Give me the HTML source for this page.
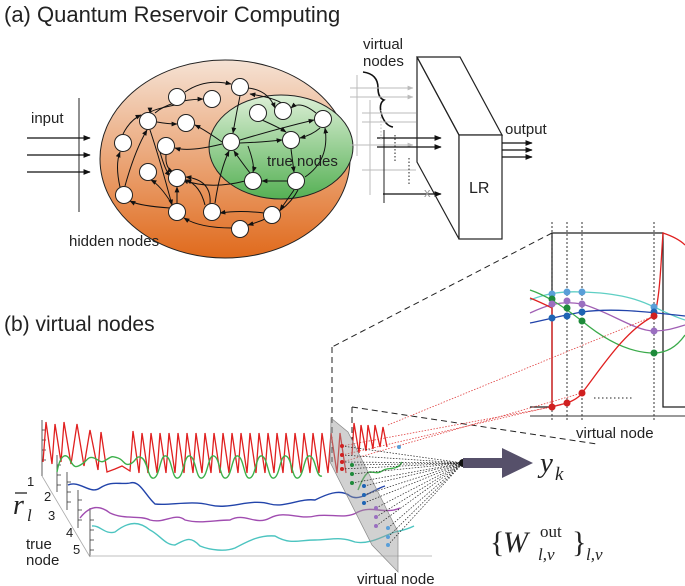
<!DOCTYPE html>
<html><head><meta charset="utf-8"><style>
html,body{margin:0;padding:0;background:#fff}
svg{display:block}
text{font-family:"Liberation Sans",sans-serif;fill:#222}
.s{font-family:"Liberation Serif",serif;font-style:italic}
.r{font-family:"Liberation Serif",serif}
</style></head><body>
<svg width="685" height="586" viewBox="0 0 685 586" xmlns="http://www.w3.org/2000/svg">
<defs>
<linearGradient id="og" x1="0" y1="0" x2="0" y2="1"><stop offset="0" stop-color="#f5e2d4"/><stop offset="1" stop-color="#e06a1c"/></linearGradient>
<linearGradient id="gg" x1="0" y1="0" x2="0" y2="1"><stop offset="0" stop-color="#dcefd6"/><stop offset="1" stop-color="#55b054"/></linearGradient>
<marker id="a" viewBox="0 0 10 10" refX="9" refY="5" markerWidth="6" markerHeight="6" orient="auto"><path d="M0,1L10,5L0,9z" fill="#111"/></marker>
<marker id="ag" viewBox="0 0 10 10" refX="9" refY="5" markerWidth="6" markerHeight="6" orient="auto"><path d="M0,1L10,5L0,9z" fill="#bbb"/></marker>
</defs>
<text x="4" y="22" font-size="22">(a) Quantum Reservoir Computing</text>
<text x="4" y="331" font-size="21">(b) virtual nodes</text>

<text x="31" y="123" font-size="15">input</text>
<line x1="79" y1="98" x2="79" y2="212" stroke="#222"/>
<g stroke="#111" stroke-width="1.2" marker-end="url(#a)">
<line x1="27" y1="138" x2="90" y2="138"/><line x1="27" y1="155" x2="90" y2="155"/><line x1="27" y1="172" x2="90" y2="172"/>
</g>

<ellipse cx="225" cy="159" rx="125" ry="99" fill="url(#og)" stroke="#222"/>
<ellipse cx="281" cy="147" rx="72" ry="52" fill="url(#gg)" stroke="#222"/>
<text x="267" y="166" font-size="15">true nodes</text>
<text x="69" y="246" font-size="15">hidden nodes</text>

<g fill="none" stroke="#111" stroke-width="1" marker-end="url(#a)">
<path d="M185,92 Q205,78 231,84"/>
<path d="M248,88 Q268,90 275,108"/>
<path d="M240,96 Q236,115 233,133"/>
<path d="M155,113 Q170,100 203,99"/>
<path d="M157,122 Q168,124 177,124"/>
<path d="M222,142 Q205,130 195,125"/>
<path d="M240,140 Q280,128 314,120"/>
<path d="M240,143 Q265,142 282,140"/>
<path d="M320,128 Q312,135 300,138"/>
<path d="M262,120 Q280,128 286,132"/>
<path d="M291,149 L294,172"/>
<path d="M287,181 L262,181"/>
<path d="M250,173 Q240,160 234,151"/>
<path d="M305,177 Q330,160 325,128"/>
<path d="M222,144 Q190,152 175,148"/>
<path d="M123,134 Q130,120 141,115"/>
<path d="M120,187 Q115,165 120,152"/>
<path d="M166,155 Q165,168 173,172"/>
<path d="M177,203 L177,187"/>
<path d="M205,205 Q200,185 186,180"/>
<path d="M170,208 Q140,206 130,201"/>
<path d="M172,204 Q160,185 151,180"/>
<path d="M232,228 Q200,228 184,218"/>
<path d="M264,213 Q240,210 220,213"/>
<path d="M298,190 Q285,215 248,225"/>
<path d="M294,190 L280,210"/>
<path d="M215,203 Q220,170 229,151"/>
<path d="M150,130 Q160,160 172,205"/>
<path d="M125,186 Q135,150 147,130"/>
<path d="M245,181 Q210,190 183,180"/>
<path d="M210,204 Q212,180 186,177"/>
<path d="M283,104 Q275,98 250,94"/>
<path d="M316,113 Q300,100 291,108"/>
<path d="M248,146 Q255,165 253,172"/>
<path d="M160,152 Q165,170 170,176"/>
<path d="M175,105 Q150,110 150,113"/>
</g>
<g fill="#fff" stroke="#222" stroke-width="1">
<circle cx="240" cy="87" r="8.5"/><circle cx="177" cy="97" r="8.5"/><circle cx="212" cy="99" r="8.5"/><circle cx="258" cy="113" r="8.5"/><circle cx="283" cy="111" r="8.5"/><circle cx="323" cy="119" r="8.5"/><circle cx="148" cy="121" r="8.5"/><circle cx="186" cy="123" r="8.5"/><circle cx="231" cy="142" r="8.5"/><circle cx="291" cy="140" r="8.5"/><circle cx="123" cy="143" r="8.5"/><circle cx="166" cy="146" r="8.5"/><circle cx="148" cy="172" r="8.5"/><circle cx="177" cy="178" r="8.5"/><circle cx="253" cy="181" r="8.5"/><circle cx="296" cy="181" r="8.5"/><circle cx="124" cy="195" r="8.5"/><circle cx="177" cy="212" r="8.5"/><circle cx="212" cy="212" r="8.5"/><circle cx="272" cy="215" r="8.5"/><circle cx="240" cy="229" r="8.5"/>
</g>

<text x="363" y="49" font-size="15">virtual</text>
<text x="363" y="66" font-size="15">nodes</text>
<path d="M363,72 Q378,74 378,88 Q378,98 384,100 Q378,104 382,116 Q386,126 393,127" fill="none" stroke="#111" stroke-width="1.6"/>
<g stroke="#bbb" stroke-width="1">
<line x1="357" y1="75" x2="357" y2="156"/><line x1="370" y1="100" x2="370" y2="195"/>
<line x1="362" y1="113" x2="416" y2="113"/><line x1="362" y1="122" x2="416" y2="122"/><line x1="362" y1="170" x2="416" y2="170"/>
<line x1="350" y1="88" x2="413" y2="88" marker-end="url(#ag)"/><line x1="350" y1="97" x2="413" y2="97" marker-end="url(#ag)"/><line x1="350" y1="145" x2="413" y2="145" marker-end="url(#ag)"/>
</g>
<line x1="384" y1="130" x2="384" y2="203" stroke="#222"/>
<g stroke="#111" stroke-width="1.2" marker-end="url(#a)">
<line x1="377" y1="138" x2="441" y2="138"/><line x1="377" y1="147" x2="441" y2="147"/><line x1="383" y1="194" x2="441" y2="194"/>
</g>
<g stroke="#222" stroke-dasharray="1.5,2"><line x1="381" y1="110" x2="381" y2="140" stroke="#bbb"/><line x1="395" y1="135" x2="395" y2="163"/><line x1="409" y1="158" x2="409" y2="186"/></g>
<text x="424" y="197" font-size="13" style="fill:#999">x</text>
<g fill="#fff" stroke="#222" stroke-width="1.2">
<path d="M417,57 L460,57 L502,135 L459,135 Z"/>
<path d="M417,57 L417,162 L459,239 L459,135 Z" fill="none"/>
<rect x="459" y="135" width="43" height="104"/>
</g>
<text x="469" y="193" font-size="16">LR</text>
<text x="505" y="134" font-size="15">output</text>
<g stroke="#111" stroke-width="1.2" marker-end="url(#a)">
<line x1="502" y1="143" x2="532" y2="143"/><line x1="502" y1="150" x2="532" y2="150"/><line x1="502" y1="157" x2="532" y2="157"/>
</g>

<g stroke="#222" stroke-dasharray="6,4" fill="none">
<line x1="552" y1="233" x2="332" y2="347"/>
<line x1="332" y1="347" x2="332" y2="462"/>
<line x1="352" y1="407" x2="597" y2="444"/>
<line x1="352" y1="407" x2="352" y2="440"/>
</g>

<line x1="530" y1="416" x2="685" y2="416" stroke="#333"/>
<path d="M530,407 L552,407 L552,233 L663,233 L663,407 L685,407" fill="none" stroke="#222" stroke-width="1.3"/>
<g stroke="#333" stroke-dasharray="2,2"><line x1="552" y1="222" x2="552" y2="420"/><line x1="567" y1="222" x2="567" y2="420"/><line x1="582" y1="222" x2="582" y2="420"/><line x1="654" y1="222" x2="654" y2="420"/></g>
<g fill="none" stroke-width="1.3">
<path d="M530,300 C545,294 560,291 582,292 C620,293 640,300 654,307 C665,312 675,317 685,320" stroke="#5fcfc4"/>
<path d="M530,313 C545,306 560,300 582,304 C610,312 635,331 654,331 C668,331 678,327 685,325" stroke="#a05fb4"/>
<path d="M530,323 C545,320 560,316 582,312 C610,308 640,311 685,316" stroke="#2244aa"/>
<path d="M530,290 C545,295 560,304 582,321 C605,340 630,353 654,353 C668,353 678,345 685,335" stroke="#3aaa4a"/>
<path d="M530,298 C540,302 548,306 552,308 L552,407 C558,405 564,404 567,403 C575,400 580,396 582,393 C600,370 625,330 654,316 C660,300 661,260 663,233 C672,236 680,240 685,245" stroke="#e02020"/>
</g>
<g stroke="#e04040" stroke-width="0.8" stroke-dasharray="1.5,1.5" fill="none">
<line x1="342" y1="446" x2="552" y2="407"/><line x1="342" y1="455" x2="567" y2="403"/><line x1="342" y1="462" x2="582" y2="393"/><line x1="388" y1="425" x2="654" y2="316"/>
</g>
<g>
<circle cx="552" cy="294" r="3.5" fill="#5a9fd8"/><circle cx="567" cy="292" r="3.5" fill="#5a9fd8"/><circle cx="582" cy="292" r="3.5" fill="#5a9fd8"/><circle cx="654" cy="307" r="3.5" fill="#5a9fd8"/>
<circle cx="552" cy="299" r="3.5" fill="#1e8a3a"/><circle cx="567" cy="308" r="3.5" fill="#1e8a3a"/><circle cx="582" cy="321" r="3.5" fill="#1e8a3a"/><circle cx="654" cy="353" r="3.5" fill="#1e8a3a"/>
<circle cx="552" cy="304" r="3.5" fill="#9a6fc0"/><circle cx="567" cy="301" r="3.5" fill="#9a6fc0"/><circle cx="582" cy="304" r="3.5" fill="#9a6fc0"/><circle cx="654" cy="331" r="3.5" fill="#9a6fc0"/>
<circle cx="552" cy="318" r="3.5" fill="#1e64b4"/><circle cx="567" cy="316" r="3.5" fill="#1e64b4"/><circle cx="582" cy="312" r="3.5" fill="#1e64b4"/><circle cx="654" cy="312" r="3.5" fill="#1e64b4"/>
<circle cx="552" cy="407" r="3.5" fill="#d02020"/><circle cx="567" cy="403" r="3.5" fill="#d02020"/><circle cx="582" cy="393" r="3.5" fill="#d02020"/><circle cx="654" cy="316" r="3.5" fill="#d02020"/>
</g>
<line x1="594" y1="398" x2="632" y2="398" stroke="#222" stroke-dasharray="1.5,2.5"/>
<text x="576" y="438" font-size="15">virtual node</text>

<g fill="none" stroke="#333" stroke-width="0.8">
<line x1="42" y1="420" x2="42" y2="476"/><line x1="57" y1="455" x2="57" y2="492"/><line x1="67" y1="472" x2="67" y2="510"/><line x1="78" y1="490" x2="78" y2="528"/><line x1="90" y1="508" x2="90" y2="557"/>
<line x1="42" y1="476" x2="90" y2="557" stroke="#aaa"/>
<line x1="90" y1="556" x2="432" y2="556" stroke="#ccc" stroke-width="1.2"/>
<path d="M42,430h4M42,440h4M42,450h4M42,460h4M57,465h4M57,475h4M57,485h4M67,482h4M67,492h4M67,502h4M78,500h4M78,510h4M78,520h4M90,520h4M90,530h4M90,540h4M90,550h4"/>
</g>
<path d="M43,462 l3,-40 l6,42 l3,-40 l6,38 l3,-40 l7,42 l6,-40 l7,42 l6,-36 l8,40 l3,-38 l6,40 l8,-3 l7,-3 l8,5 l3,-40 l6,42 l3,-40 l6,40 l3,-40 l6,40 l3,-40 l6,40 l3,-40 l6,40 l3,-40 l6,40 l3,-40 l6,40 l3,-40 l6,40 l3,-40 l6,40 l3,-40 l6,40 l3,-40 l6,40 l3,-40 l6,40 l3,-40 l6,40 l3,-40 l6,40 l3,-40 l6,40 l3,-40 l6,40 l3,-40 l6,40 l3,-40 l6,40 l3,-40 l6,40 l3,-40 l6,40 l3,-40 l6,40 l3,-40 l6,40 l3,-40 l6,40 l3,-40 l6,40" fill="none" stroke="#e02020" stroke-width="1.3"/>
<path d="M352,455 l2,-32 l5,30 l2,-28 l5,26 l2,-26 l5,24 l2,-24 l5,22 l3,-20 l4,20" fill="none" stroke="#e02020" stroke-width="1.3"/>
<path d="M57,472 C60,455 66,452 70,460 s6,8 12,4 s6,-8 12,-6 s6,6 12,2 s6,-4 12,-2 s6,8 12,6 s6,-10 12,-6 s6,22 12,20 s6,-24 12,-22 s6,24 12,22 s6,-24 12,-22 s6,24 12,22 s6,-24 12,-22 s6,24 12,22 s6,-24 12,-22 s6,24 12,22 s6,-24 12,-22 s6,24 12,22 s6,-24 12,-22 s6,24 12,22 s6,-24 12,-22 s6,22 12,20" fill="none" stroke="#3cb04a" stroke-width="1.4"/>
<path d="M358,490 C362,480 366,472 370,472 s8,2 12,-1 s8,-2 12,-3 s6,-2 8,-6" fill="none" stroke="#3cb04a" stroke-width="1.4"/>
<path d="M68,485 C80,480 90,495 100,488 C112,480 120,485 130,483 C140,480 145,495 155,504 C170,506 190,500 210,505 C230,510 250,498 270,504 C285,508 300,498 315,500 C325,495 340,488 350,496 C360,502 372,490 385,486" fill="none" stroke="#2244aa" stroke-width="1.4"/>
<path d="M80,518 C90,505 100,505 110,513 C125,520 140,515 150,520 C165,524 175,512 185,520 C200,524 215,520 230,520 C245,512 255,526 270,518 C285,510 300,520 315,516 C330,513 345,520 358,512 C372,505 385,515 400,508" fill="none" stroke="#a04cb0" stroke-width="1.4"/>
<path d="M92,526 C100,525 105,535 115,532 C130,520 140,522 150,530 C160,535 165,545 175,545 C185,540 190,535 200,546 C210,550 225,552 235,548 C250,540 260,535 275,536 C290,545 300,540 315,540 C330,540 340,536 355,542 C370,545 385,535 395,532 C405,530 410,528 414,526" fill="none" stroke="#4cc4c0" stroke-width="1.4"/>

<polygon points="331,418 348,432 398,532 398,572 372,545 330,462" fill="#999" fill-opacity="0.45" stroke="#888" stroke-width="0.7"/>
<g stroke="#222" stroke-width="0.7" stroke-dasharray="1.5,1.5">
<line x1="342" y1="446" x2="463" y2="463"/><line x1="342" y1="455" x2="463" y2="463"/><line x1="342" y1="462" x2="463" y2="463"/><line x1="342" y1="469" x2="463" y2="463"/>
<line x1="352" y1="465" x2="463" y2="463"/><line x1="352" y1="474" x2="463" y2="463"/><line x1="352" y1="483" x2="463" y2="463"/>
<line x1="364" y1="486" x2="463" y2="463"/><line x1="364" y1="495" x2="463" y2="463"/><line x1="364" y1="503" x2="463" y2="463"/>
<line x1="376" y1="508" x2="463" y2="463"/><line x1="376" y1="517" x2="463" y2="463"/><line x1="376" y1="526" x2="463" y2="463"/>
<line x1="388" y1="528" x2="463" y2="463"/><line x1="388" y1="537" x2="463" y2="463"/><line x1="388" y1="545" x2="463" y2="463"/>
</g>
<g>
<circle cx="342" cy="446" r="2" fill="#d02020"/><circle cx="342" cy="455" r="2" fill="#d02020"/><circle cx="342" cy="462" r="2" fill="#d02020"/><circle cx="342" cy="469" r="2" fill="#d02020"/>
<circle cx="352" cy="465" r="2" fill="#1e8a3a"/><circle cx="352" cy="474" r="2" fill="#1e8a3a"/><circle cx="352" cy="483" r="2" fill="#1e8a3a"/>
<circle cx="364" cy="486" r="2" fill="#1e64b4"/><circle cx="364" cy="495" r="2" fill="#1e64b4"/><circle cx="364" cy="503" r="2" fill="#1e64b4"/>
<circle cx="376" cy="508" r="2" fill="#9a6fc0"/><circle cx="376" cy="517" r="2" fill="#9a6fc0"/><circle cx="376" cy="526" r="2" fill="#9a6fc0"/>
<circle cx="388" cy="528" r="2" fill="#5a9fd8"/><circle cx="388" cy="537" r="2" fill="#5a9fd8"/><circle cx="388" cy="545" r="2" fill="#5a9fd8"/>
<circle cx="399" cy="447" r="2" fill="#5a9fd8"/>
</g>
<circle cx="463" cy="463" r="4" fill="#111"/>
<path d="M463,458 L502,458 L502,448 L533,463 L502,478 L502,468 L463,468 Z" fill="#56506a"/>
<text x="540" y="472" font-size="29" class="s">y</text>
<text x="555" y="480" font-size="19" class="s">k</text>
<text x="490" y="552" font-size="30" class="r">{</text>
<text x="503" y="552" font-size="30" class="s">W</text>
<text x="540" y="537" font-size="17" class="r">out</text>
<text x="538" y="560" font-size="17" class="s">l,v</text>
<text x="572" y="552" font-size="30" class="r">}</text>
<text x="586" y="560" font-size="17" class="s">l,v</text>
<text x="357" y="584" font-size="15">virtual node</text>

<text x="27" y="486" font-size="13">1</text><text x="44" y="501" font-size="13">2</text><text x="48" y="520" font-size="13">3</text><text x="66" y="537" font-size="13">4</text><text x="73" y="554" font-size="13">5</text>
<text x="13" y="514" font-size="28" class="s">r</text>
<line x1="15" y1="493" x2="27" y2="493" stroke="#222" stroke-width="1.3"/>
<text x="27" y="521" font-size="17" class="s">l</text>
<text x="26" y="549" font-size="15">true</text>
<text x="26" y="565" font-size="15">node</text>
</svg>
</body></html>
